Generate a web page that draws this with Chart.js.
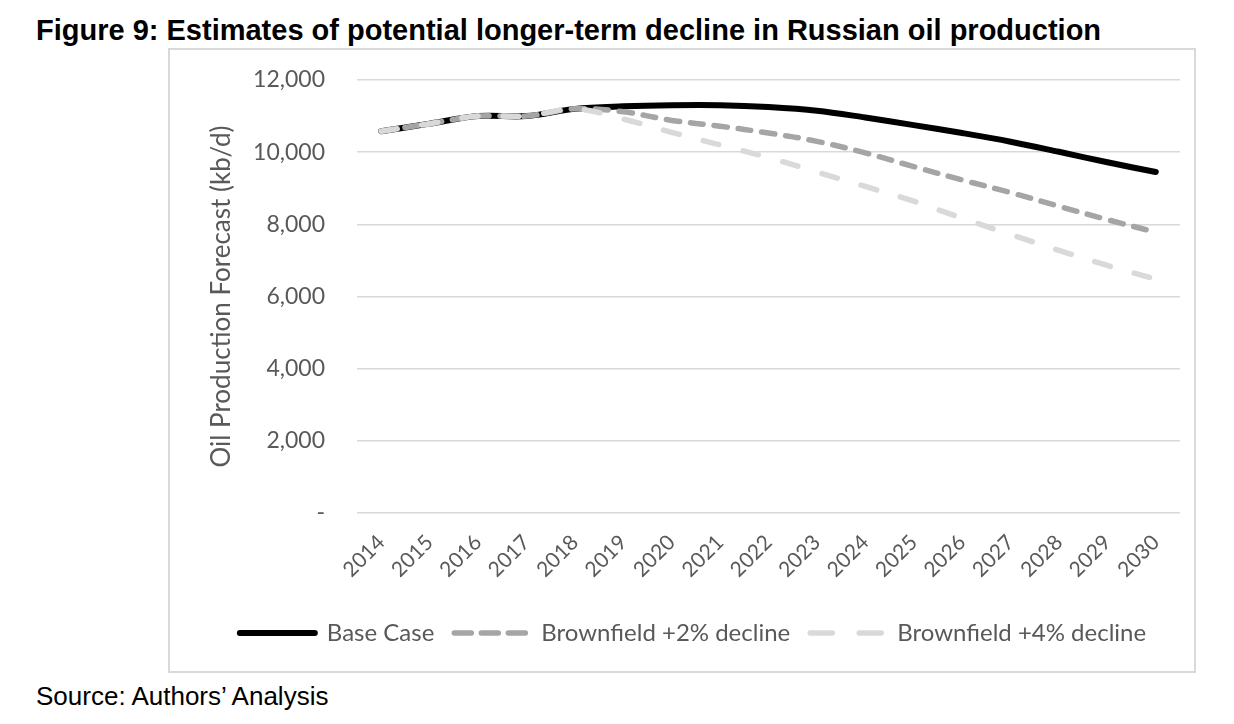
<!DOCTYPE html>
<html>
<head>
<meta charset="utf-8">
<script src="https://cdn.jsdelivr.net/npm/chart.js@4"></script>
<style>
    body { margin: 0; background: #fff; width: 1234px; height: 724px; position: relative; overflow: hidden; }
    #title { position: absolute; left: 36px; top: 16px; font: bold 29px "Liberation Sans", Arial, sans-serif; line-height: 29px; color: #000; white-space: nowrap; }
    #frame { position: absolute; left: 168px; top: 48px; width: 1028px; height: 625px; border: 2px solid #d9d9d9; box-sizing: border-box; }
    #wrap { position: absolute; left: 0; top: 0; width: 1024px; height: 621px; }
    #source { position: absolute; left: 36px; top: 683px; font: 26px "Liberation Sans", Arial, sans-serif; line-height: 26px; color: #000; white-space: nowrap; }
</style>
</head>
<body>
<div id="title">Figure 9: Estimates of potential longer-term decline in Russian oil production</div>
<div id="frame"><div id="wrap"><canvas id="oilChart"></canvas></div></div>
<div id="source">Source: Authors’ Analysis</div>
<script>
// Chart data (kb/d)
const years = ['2014', '2015', '2016', '2017', '2018', '2019', '2020', '2021', '2022',
    '2023', '2024', '2025', '2026', '2027', '2028', '2029', '2030'];
const baseCase = [10580, 10790, 11000, 11000, 11200, 11270, 11300, 11300, 11250,
    11150, 10960, 10750, 10530, 10290, 10010, 9720, 9450];
const brownfield2 = [10580, 10790, 11000, 11000, 11200, 11120, 10880, 10720, 10530,
    10300, 9980, 9600, 9230, 8880, 8500, 8130, 7780];
const brownfield4 = [10580, 10790, 11000, 11000, 11200, 10920, 10550, 10200, 9850,
    9450, 9050, 8640, 8170, 7720, 7280, 6860, 6480];
const seriesNames = ['Base Case', 'Brownfield +2% decline', 'Brownfield +4% decline'];
const yTicks = [0, 2000, 4000, 6000, 8000, 10000, 12000];

const textColor = '#595959';
const font = 'Lato';

// dash patterns used only for the legend swatches
const legendDash = [[], [17, 10], [22, 27]];

const ctx = document.getElementById('oilChart').getContext('2d');
new Chart(ctx, {
    type: 'line',
    data: {
        labels: years,
        datasets: [
            {
                label: seriesNames[0],
                data: baseCase,
                borderColor: '#000000',
                backgroundColor: '#000000',
                borderWidth: 6,
                borderCapStyle: 'round',
                order: 3
            },
            {
                label: seriesNames[1],
                data: brownfield2,
                borderColor: '#a5a5a5',
                backgroundColor: '#a5a5a5',
                borderWidth: 5.5,
                borderDash: [13, 11],
                borderCapStyle: 'round',
                order: 2
            },
            {
                label: seriesNames[2],
                data: brownfield4,
                borderColor: '#d9d9d9',
                backgroundColor: '#d9d9d9',
                borderWidth: 5.5,
                borderDash: [16, 25],
                borderCapStyle: 'round',
                order: 1
            }
        ]
    },
    options: {
        responsive: true,
        maintainAspectRatio: false,
        animation: false,
        tension: 0.35,
        pointRadius: 0,
        pointHoverRadius: 0,
        pointStyle: 'line',
        layout: { padding: { top: 30, right: 14, bottom: 16, left: 36 } },
        plugins: {
            tooltip: { enabled: false },
            legend: {
                position: 'bottom',
                labels: {
                    usePointStyle: true,
                    pointStyleWidth: 75,
                    boxHeight: 22,
                    padding: 20,
                    color: textColor,
                    font: { family: font, size: 24 },
                    sort: (a, b) => a.datasetIndex - b.datasetIndex,
                    generateLabels: (chart) => {
                        const items = Chart.defaults.plugins.legend.labels.generateLabels(chart);
                        items.forEach(item => {
                            item.pointStyle = 'line';
                            item.lineDash = legendDash[item.datasetIndex];
                            item.lineCap = 'round';
                        });
                        return items;
                    }
                }
            }
        },
        scales: {
            x: {
                offset: true,
                grid: { display: false, drawTicks: false },
                border: { display: false },
                ticks: {
                    color: textColor,
                    font: { family: font, size: 21 },
                    minRotation: 45,
                    maxRotation: 45,
                    padding: 17
                },
                afterFit: (scale) => { scale.height = 88; }
            },
            y: {
                min: 0,
                max: 12000,
                afterBuildTicks: (scale) => { scale.ticks = yTicks.map(v => ({ value: v })); },
                grid: { color: '#d9d9d9', lineWidth: 1.5, drawTicks: false },
                border: { display: false },
                ticks: {
                    color: textColor,
                    font: { family: font, size: 23 },
                    padding: 32,
                    callback: (v) => v === 0 ? '-' : v.toLocaleString('en-US')
                },
                title: {
                    display: true,
                    text: 'Oil Production Forecast (kb/d)',
                    color: textColor,
                    font: { family: font, size: 26 },
                    padding: { top: 0, bottom: 0 }
                },
                afterFit: (scale) => {
                    scale.width = 151;
                    // the tick padding would otherwise push the plot top down
                    scale.paddingTop = 0;
                    scale.paddingBottom = 0;
                }
            }
        }
    }
});
</script>
</body>
</html>
